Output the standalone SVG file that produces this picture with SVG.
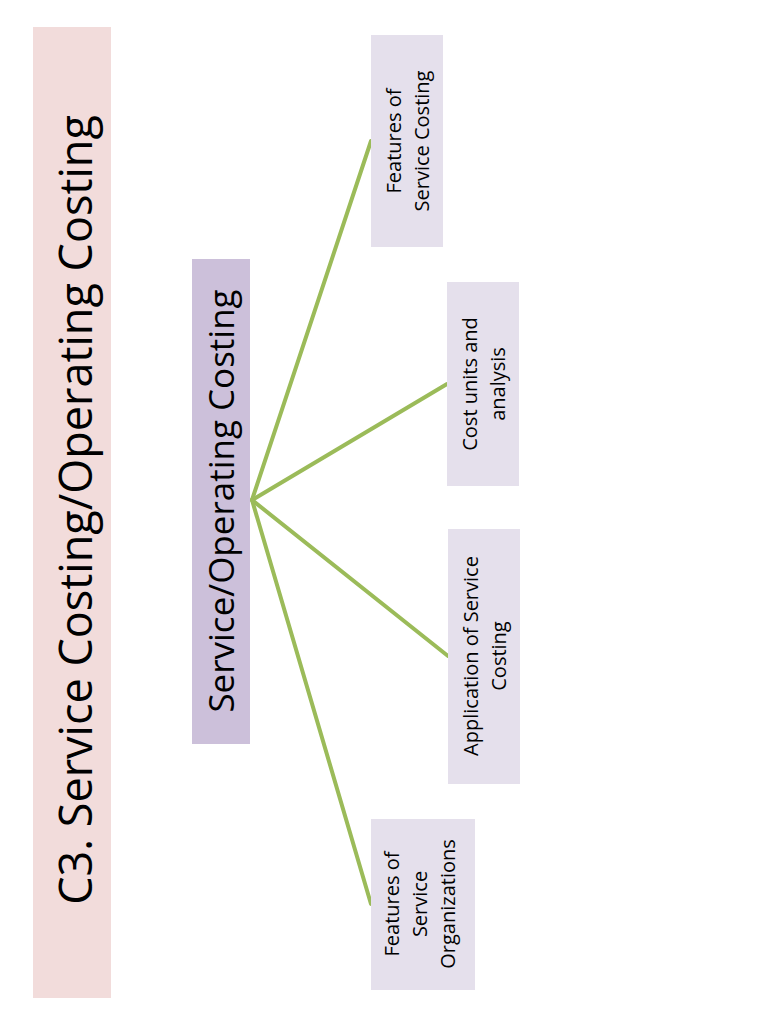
<svg xmlns="http://www.w3.org/2000/svg" width="768" height="1024" viewBox="0 0 768 1024">
<style>
text{font-family:"Open Sans","Liberation Sans",sans-serif;fill:#000;text-anchor:middle}
.leaf{fill:#e5e0ec}
.lt{font-size:20px}
.c{stroke:#9bbb59;stroke-width:4;fill:none;stroke-linecap:round}
</style>
<rect width="768" height="1024" fill="#fff"/>
<g id="title"><rect x="33" y="27" width="78" height="971" fill="#f2dcdb"/>
<text transform="translate(92,510) rotate(-90)" font-size="45">C3. Service Costing/Operating Costing</text></g>
<g id="connectors">
<line class="c" x1="252" y1="500" x2="371" y2="141"/>
<line class="c" x1="252" y1="500" x2="447" y2="384"/>
<line class="c" x1="252" y1="500" x2="448" y2="656"/>
<line class="c" x1="252" y1="500" x2="371" y2="904"/>
</g>
<g id="center"><rect x="192" y="259" width="58" height="485" fill="#ccc0da"/>
<text transform="translate(234,501) rotate(-90)" font-size="35">Service/Operating Costing</text></g>
<g id="n1"><rect class="leaf" x="371" y="35" width="72" height="212"/>
<text class="lt" transform="translate(401,141) rotate(-90)"><tspan x="0" y="0">Features of</tspan><tspan x="0" dy="28">Service Costing</tspan></text></g>
<g id="n2"><rect class="leaf" x="447" y="282" width="72" height="204"/>
<text class="lt" transform="translate(477,384) rotate(-90)"><tspan x="0" y="0">Cost units and</tspan><tspan x="0" dy="28">analysis</tspan></text></g>
<g id="n3"><rect class="leaf" x="448" y="529" width="72" height="255"/>
<text class="lt" transform="translate(478,656) rotate(-90)"><tspan x="0" y="0">Application of Service</tspan><tspan x="0" dy="28">Costing</tspan></text></g>
<g id="n4"><rect class="leaf" x="371" y="819" width="104" height="171"/>
<text class="lt" transform="translate(399,904) rotate(-90)"><tspan x="0" y="0">Features of</tspan><tspan x="0" dy="28">Service</tspan><tspan x="0" dy="28">Organizations</tspan></text></g>
</svg>
